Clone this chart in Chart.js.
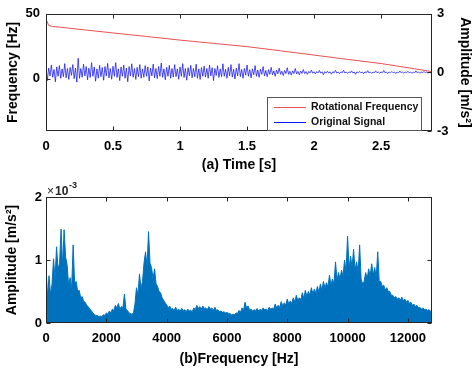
<!DOCTYPE html>
<html><head><meta charset="utf-8">
<script src="https://cdn.jsdelivr.net/npm/chart.js@4"></script>
<style>
html,body{margin:0;padding:0;background:#fff;}
#wrap{width:474px;height:368px;position:relative;overflow:hidden;}
.c{position:absolute;left:0;width:474px;}
#w1{top:0;height:180px;} #w2{top:180px;height:188px;}
</style></head><body>
<div id="wrap"><div class="c" id="w1"><canvas id="c1"></canvas></div><div class="c" id="w2"><canvas id="c2"></canvas></div></div>
<script>
// ---------- data ----------
const rotTime = [0, 0.02, 0.05, 0.1, 0.3, 0.5, 0.75, 1.0, 1.25, 1.5, 1.75, 2.0, 2.25, 2.5, 2.75, 2.88];
const rotFreq = [46, 41, 40.2, 39.8, 37.5, 35.3, 32.6, 29.8, 27.3, 24.8, 21.6, 18.3, 15.0, 11.8, 7.8, 5.6];

const sigDt = 0.01; // s between samples
const sigAmp = [ // m/s^2
  0.3,-0.42,0.22,-0.18,0.38,-0.25,0.15,-0.48,0.28,-0.2,0.35,-0.3,0.18,-0.22,0.45,-0.28,0.2,-0.36,0.25,-0.15,0.4,-0.32,0.22,-0.5,
  0.72,-0.3,0.2,-0.25,0.42,-0.18,0.3,-0.38,0.22,-0.26,0.5,-0.2,0.28,-0.45,0.18,-0.3,0.36,-0.22,0.25,-0.4,0.3,-0.18,0.46,-0.28,
  0.2,-0.35,0.32,-0.2,0.5,-0.26,0.18,-0.42,0.28,-0.2,0.38,-0.3,0.22,-0.48,0.3,-0.18,0.44,-0.25,0.2,-0.36,0.26,-0.22,0.4,-0.3,
  0.18,-0.25,0.35,-0.2,0.28,-0.44,0.22,-0.18,0.42,-0.28,0.2,-0.32,0.3,-0.2,0.48,-0.25,0.18,-0.38,0.26,-0.2,0.36,-0.3,0.2,-0.24,
  0.4,-0.22,0.18,-0.35,0.28,-0.2,0.45,-0.26,0.2,-0.4,0.24,-0.18,0.36,-0.28,0.2,-0.22,0.42,-0.3,0.18,-0.36,0.25,-0.2,0.32,-0.24,
  0.2,-0.3,0.38,-0.18,0.24,-0.42,0.2,-0.16,0.34,-0.26,0.18,-0.22,0.44,-0.2,0.16,-0.3,0.26,-0.18,0.4,-0.24,0.16,-0.34,0.22,-0.18,
  0.45,-0.22,0.15,-0.3,0.2,-0.14,0.38,-0.2,0.14,-0.28,0.18,-0.12,0.35,-0.2,0.12,-0.25,0.16,-0.1,0.3,-0.18,0.1,-0.22,0.14,-0.1,
  0.26,-0.12,0.08,-0.2,0.12,-0.07,0.22,-0.1,0.06,-0.16,0.1,-0.06,0.24,-0.1,0.06,-0.14,0.08,-0.06,0.2,-0.08,0.05,-0.12,0.07,-0.05,
  0.15,-0.06,0.04,-0.1,0.05,-0.03,0.12,-0.04,0.03,-0.08,0.04,-0.03,0.1,-0.04,0.03,-0.12,0.04,-0.03,0.06,-0.03,0.03,-0.09,0.03,-0.02,
  0.1,-0.03,0.02,-0.06,0.03,-0.02,0.11,-0.03,0.02,-0.05,0.03,-0.02,0.08,-0.03,0.02,-0.1,0.03,-0.02,0.05,-0.02,0.02,-0.07,0.03,-0.02,
  0.09,-0.03,0.02,-0.05,0.02,-0.02,0.08,-0.02,0.02,-0.04,0.02,-0.02,0.1,-0.02,0.02,-0.06,0.02,-0.02,0.05,-0.02,0.02,-0.06,0.02,-0.02,
  0.07,-0.02,0.02,-0.04,0.02,-0.02,0.06,-0.02,0.02,-0.05,0.02,-0.02,0.08,-0.02,0.02,-0.04,0.02,-0.02,0.05,-0.02,0.02,-0.04,0.02,-0.02,
  0.01
];

const specStep = 50; // Hz between spectrum samples
const specAmp = [ // x10^-3 m/s^2
  0.92,0.40,0.75,0.45,0.62,1.02,0.70,1.21,0.85,0.95,1.49,0.90,1.48,1.05,0.92,0.60,0.72,0.55,1.24,0.62,
  0.66,0.50,0.52,0.40,0.42,0.34,0.33,0.28,0.26,0.22,0.20,0.16,0.14,0.12,0.12,0.10,0.11,0.10,0.13,0.12,
  0.16,0.14,0.19,0.16,0.22,0.20,0.28,0.24,0.31,0.22,0.26,0.24,0.46,0.22,0.20,0.16,0.15,0.14,0.16,0.30,
  0.56,0.45,0.78,0.55,0.66,0.95,1.13,0.90,1.45,0.95,0.88,0.70,0.86,0.62,0.58,0.50,0.48,0.40,0.36,0.32,
  0.29,0.24,0.27,0.22,0.23,0.20,0.25,0.20,0.22,0.19,0.23,0.20,0.21,0.18,0.22,0.19,0.20,0.18,0.24,0.21,
  0.28,0.23,0.26,0.22,0.27,0.23,0.24,0.21,0.26,0.22,0.24,0.20,0.25,0.20,0.21,0.18,0.19,0.17,0.18,0.16,
  0.17,0.15,0.15,0.13,0.14,0.13,0.16,0.15,0.20,0.17,0.24,0.20,0.33,0.24,0.27,0.21,0.22,0.19,0.21,0.20,
  0.23,0.19,0.22,0.20,0.24,0.21,0.22,0.20,0.25,0.22,0.24,0.22,0.30,0.24,0.28,0.25,0.34,0.27,0.32,0.28,
  0.38,0.30,0.35,0.31,0.40,0.33,0.44,0.36,0.40,0.37,0.48,0.39,0.52,0.42,0.50,0.44,0.56,0.46,0.54,0.47,
  0.58,0.49,0.62,0.52,0.66,0.55,0.64,0.57,0.76,0.60,0.70,0.62,0.97,0.68,0.80,0.70,0.84,0.74,1.00,0.82,
  1.38,0.86,1.06,0.88,1.17,0.84,0.97,0.80,1.24,0.70,0.62,0.66,0.80,0.70,0.86,0.74,0.94,0.76,0.88,0.72,
  1.13,0.66,0.66,0.58,0.60,0.52,0.56,0.50,0.50,0.44,0.44,0.40,0.42,0.38,0.40,0.36,0.41,0.35,0.38,0.33,
  0.36,0.31,0.33,0.28,0.30,0.26,0.28,0.24,0.25,0.22,0.24,0.21,0.22,0.20,0.21,0.19,0.18
];

const timeTicks = [0, 0.5, 1, 1.5, 2, 2.5];
const freqTicks = [0, 50];
const ampTicks = [-3, 0, 3];
const specXTicks = [0, 2000, 4000, 6000, 8000, 10000, 12000];
const specYTicks = [0, 1, 2];

// ---------- helpers ----------
const FF = "'Liberation Sans', Arial, sans-serif";
const tickFont = {family: FF, size: 13, weight: 'bold'};
const titleFont = {family: FF, size: 14, weight: 'bold'};
const setTicks = arr => s => { s.ticks = arr.map(v => ({value: v})); };

function line(ctx, x1, y1, x2, y2){ ctx.beginPath(); ctx.moveTo(x1, y1); ctx.lineTo(x2, y2); ctx.stroke(); }

const framePlugin = {
  id: 'frame',
  afterDatasetsDraw(chart, args, opts){
    const {ctx, chartArea: a} = chart;
    const L = 4;
    ctx.save();
    ctx.strokeStyle = '#262626'; ctx.lineWidth = 1;
    const l = Math.round(a.left) + 0.5, r = Math.round(a.right) - 0.5, t = Math.round(a.top) + 0.5, b = Math.round(a.bottom) - 0.5;
    ctx.strokeRect(l, t, r - l, b - t);
    const xs = chart.scales.x;
    xs.ticks.forEach(tk => { const p = Math.round(xs.getPixelForValue(tk.value)) + 0.5; line(ctx, p, t, p, t + L); line(ctx, p, b, p, b - L); });
    (opts.left || []).forEach(([id, both]) => {
      const s = chart.scales[id];
      s.ticks.forEach(tk => { const p = Math.round(s.getPixelForValue(tk.value)) + 0.5; line(ctx, l, p, l + L, p); if (both) line(ctx, r, p, r - L, p); });
    });
    (opts.right || []).forEach(id => {
      const s = chart.scales[id];
      s.ticks.forEach(tk => { const p = Math.round(s.getPixelForValue(tk.value)) + 0.5; line(ctx, r, p, r - L, p); });
    });
    ctx.restore();
  }
};

const legendPlugin = {
  id: 'boxLegend',
  afterDraw(chart){
    const {ctx} = chart;
    const x = 267, y = 97, w = 154, h = 33;
    ctx.save();
    ctx.fillStyle = '#fff'; ctx.fillRect(x, y, w, h);
    ctx.strokeStyle = '#555'; ctx.lineWidth = 1; ctx.strokeRect(x + 0.5, y + 0.5, w, h);
    ctx.font = "bold 10.5px " + FF; ctx.textBaseline = 'middle'; ctx.fillStyle = '#111';
    chart.data.datasets.forEach((ds, i) => {
      const yy = y + 10.5 + i * 15;
      ctx.strokeStyle = ds.legendColor || ds.borderColor; ctx.lineWidth = 1;
      line(ctx, x + 7, yy, x + 39, yy);
      ctx.fillText(ds.label, x + 44, yy);
    });
    ctx.restore();
  }
};

const expPlugin = {
  id: 'expLabel',
  afterDraw(chart){
    const {ctx} = chart;
    ctx.save();
    ctx.fillStyle = '#222'; ctx.textBaseline = 'alphabetic';
    ctx.font = "12px " + FF; ctx.fillText('\u00d7', 47, 15);
    ctx.font = "bold 12px " + FF; ctx.fillText('10', 55, 15);
    ctx.font = "bold 9px " + FF; ctx.fillText('-3', 69, 8);
    ctx.restore();
  }
};

Chart.defaults.font.family = FF;
Chart.defaults.color = '#000';

// ---------- top chart ----------
new Chart(document.getElementById('c1'), {
  type: 'line',
  data: {datasets: [
    {label: 'Rotational Frequency', data: rotTime.map((t, i) => ({x: t, y: rotFreq[i]})), yAxisID: 'y', borderColor: 'rgb(236,80,80)', borderWidth: 1, pointRadius: 0, tension: 0},
    {label: 'Original Signal', data: sigAmp.map((v, i) => ({x: i * sigDt, y: v})), yAxisID: 'y1', borderColor: 'rgba(20,20,240,0.75)', legendColor: 'rgb(20,20,240)', borderWidth: 1, pointRadius: 0, tension: 0}
  ]},
  options: {
    responsive: true, maintainAspectRatio: false, animation: false,
    layout: {padding: {top: 5, left: 0, right: 0, bottom: 0}},
    plugins: {legend: {display: false}, tooltip: {enabled: false}, frame: {left: [['y', false]], right: ['y1']}},
    scales: {
      x: {type: 'linear', min: 0, max: 2.88, afterBuildTicks: setTicks(timeTicks), afterFit: s => { s.height = 49; },
          ticks: {font: tickFont, color: '#000', padding: 8, maxRotation: 0, autoSkip: false, callback: v => String(v)},
          grid: {display: false, drawTicks: false}, border: {display: false},
          title: {display: true, text: '(a) Time [s]', font: titleFont, color: '#000', padding: {top: 0, bottom: 6}}},
      y: {position: 'left', min: -40, max: 50, afterBuildTicks: setTicks(freqTicks), afterFit: s => { s.width = 46; },
          ticks: {font: tickFont, color: '#000', padding: 6, autoSkip: false},
          grid: {display: false, drawTicks: false}, border: {display: false},
          title: {display: true, text: 'Frequency [Hz]', font: titleFont, color: '#000', padding: {top: 5, bottom: 0}}},
      y1: {position: 'right', min: -3, max: 3, afterBuildTicks: setTicks(ampTicks), afterFit: s => { s.width = 42; },
          ticks: {font: tickFont, color: '#000', padding: 5, autoSkip: false},
          grid: {display: false, drawTicks: false}, border: {display: false},
          title: {display: true, text: 'Amplitude [m/s\u00b2]', font: titleFont, color: '#000', padding: {top: 1, bottom: 0}}}
    }
  },
  plugins: [framePlugin, legendPlugin]
});

// ---------- bottom chart ----------
new Chart(document.getElementById('c2'), {
  type: 'line',
  data: {datasets: [
    {label: 'Spectrum', data: specAmp.map((v, i) => ({x: i * specStep, y: v})), borderColor: 'rgb(0,114,189)', backgroundColor: 'rgb(0,114,189)', fill: 'origin', borderWidth: 1, pointRadius: 0, tension: 0}
  ]},
  options: {
    responsive: true, maintainAspectRatio: false, animation: false,
    layout: {padding: {top: 17, left: 0, right: 42, bottom: 0}},
    plugins: {legend: {display: false}, tooltip: {enabled: false}, frame: {left: [['y', true]]}},
    scales: {
      x: {type: 'linear', min: 0, max: 12800, afterBuildTicks: setTicks(specXTicks), afterFit: s => { s.height = 45; },
          ticks: {font: tickFont, color: '#000', padding: 8, maxRotation: 0, autoSkip: false, callback: v => String(v)},
          grid: {display: false, drawTicks: false}, border: {display: false},
          title: {display: true, text: '(b)Frequency [Hz]', font: titleFont, color: '#000', padding: {top: 0, bottom: 0}}},
      y: {position: 'left', min: 0, max: 2, afterBuildTicks: setTicks(specYTicks), afterFit: s => { s.width = 46; },
          ticks: {font: tickFont, color: '#000', padding: 4, autoSkip: false},
          grid: {display: false, drawTicks: false}, border: {display: false},
          title: {display: true, text: 'Amplitude [m/s\u00b2]', font: titleFont, color: '#000', padding: {top: 4, bottom: 0}}}
    }
  },
  plugins: [framePlugin, expPlugin]
});
</script>
</body></html>
